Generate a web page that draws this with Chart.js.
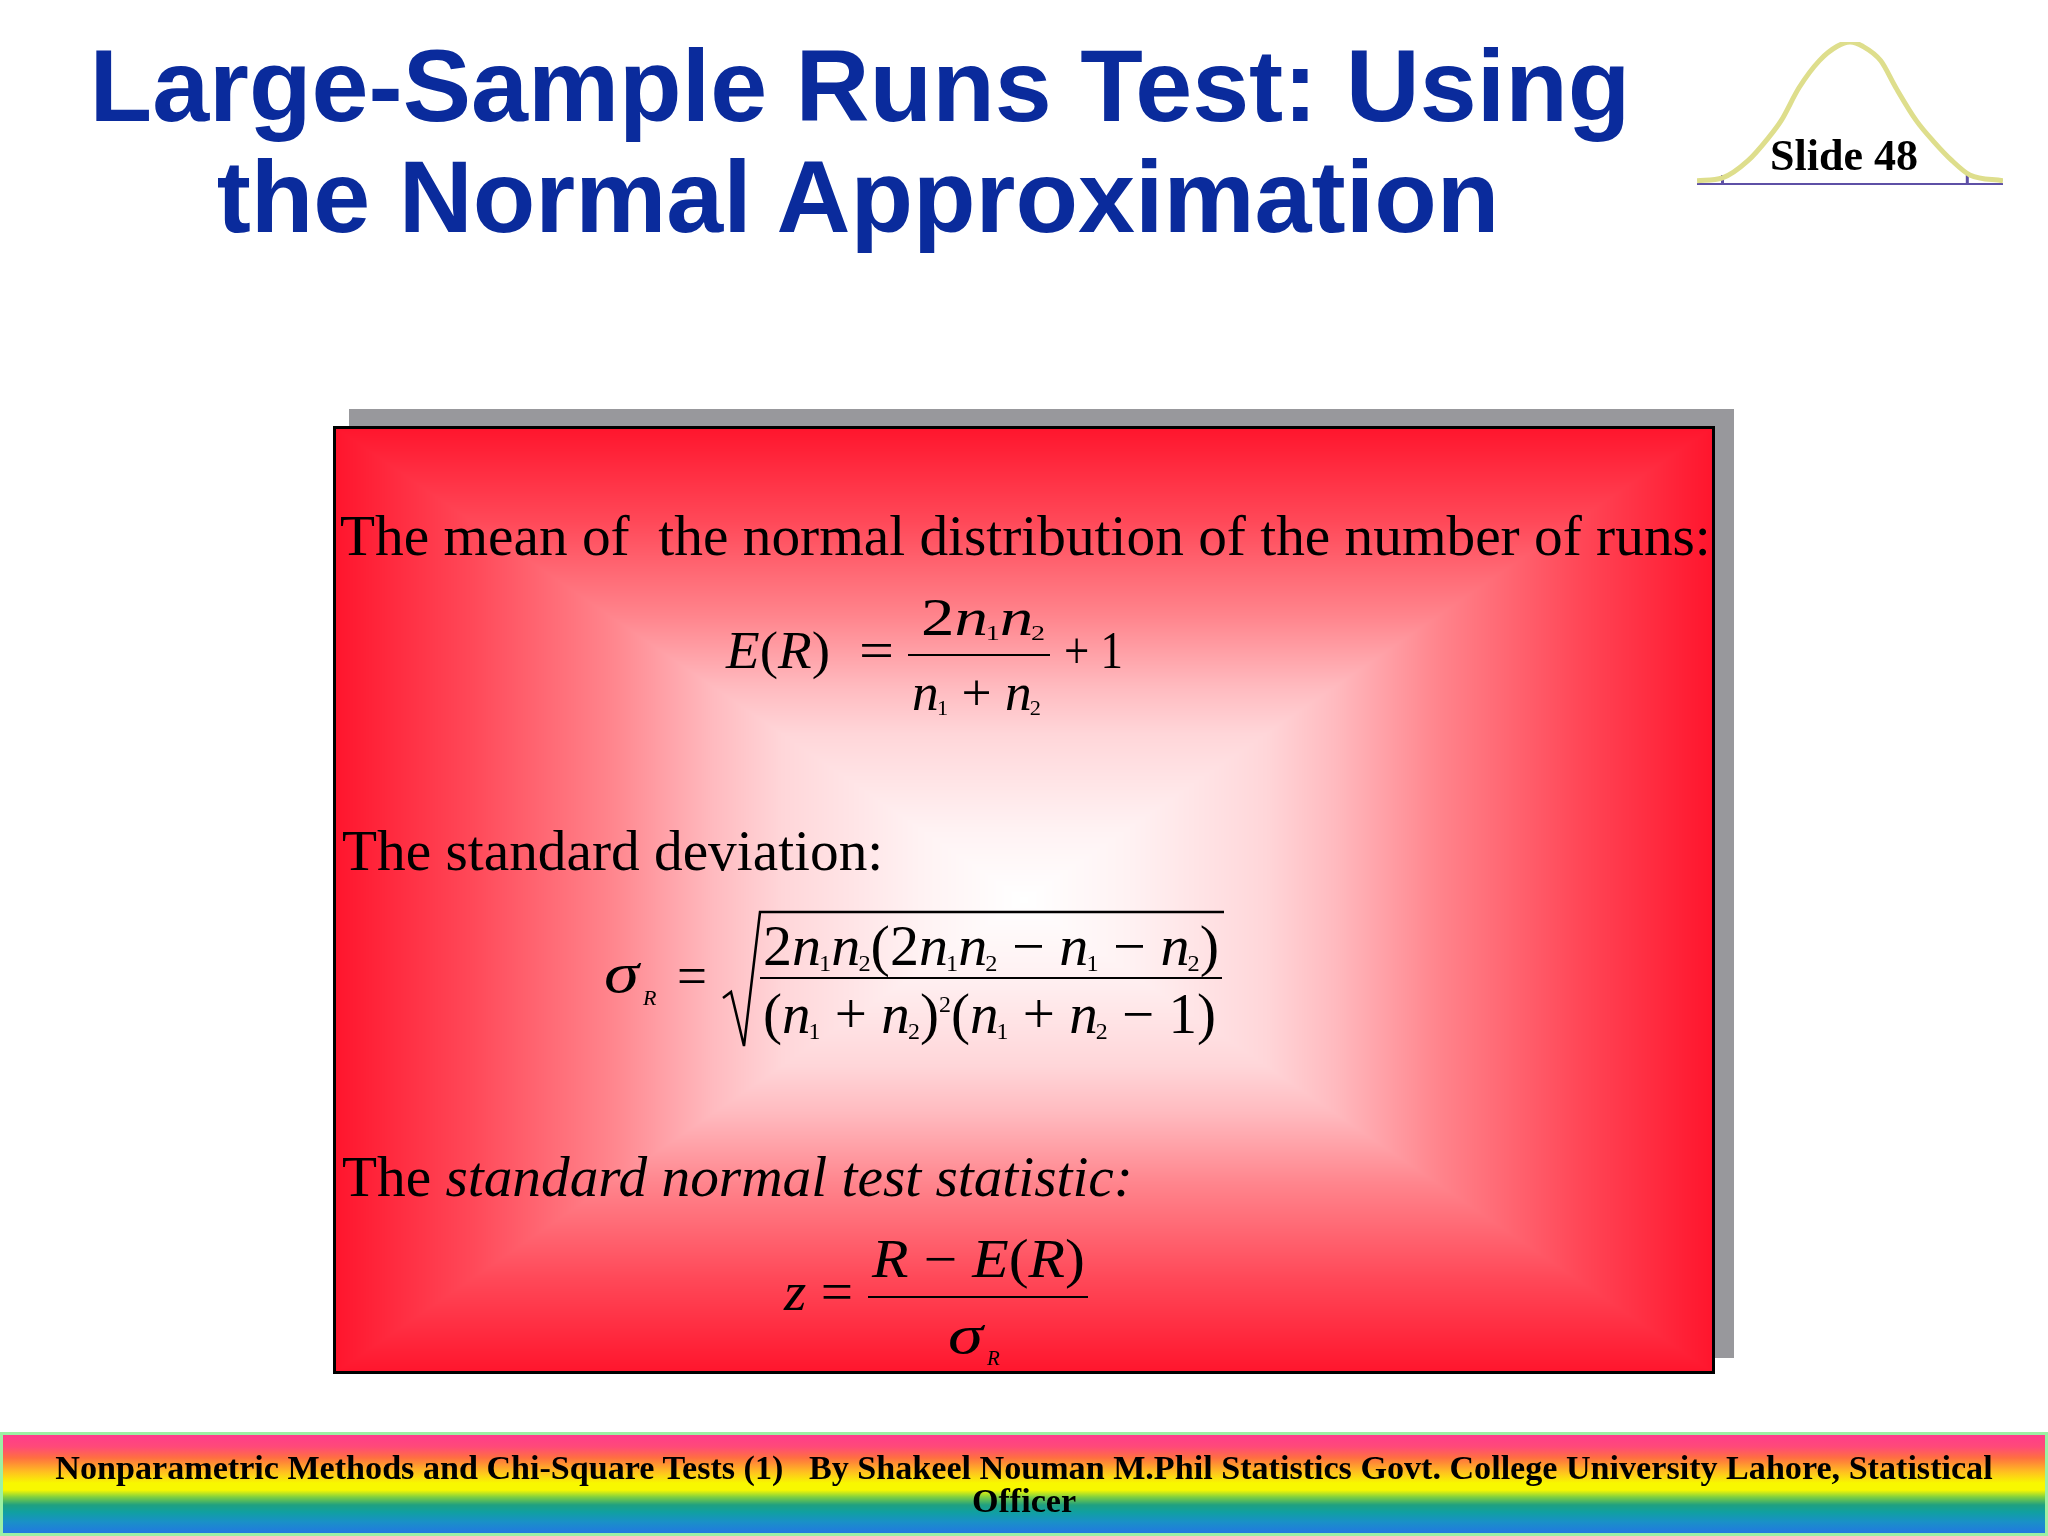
<!DOCTYPE html>
<html>
<head>
<meta charset="utf-8">
<title>Large-Sample Runs Test</title>
<script src="https://cdn.jsdelivr.net/npm/chart.js@4"></script>
<style>
  html, body { margin: 0; padding: 0; background: #fff; }
  #page { position: relative; width: 2048px; height: 1536px; overflow: hidden; background: #fff; }
  .txt { position: absolute; left: 0; top: 0; white-space: nowrap; line-height: 1.2; }
  .bl { display: inline-block; width: 0; height: 0; vertical-align: baseline; }
  .title { font-family: "Liberation Sans", Arial, sans-serif; font-weight: bold; color: #0a2b9c; font-size: 100px; }
  .body { font-family: "Liberation Serif", "Times New Roman", serif; color: #000; font-size: 56px; }
  .m { font-family: "Liberation Serif", "Times New Roman", serif; color: #000; }
  .m i, .body i { font-style: italic; }
  .m .s { font-size: 0.42em; position: relative; top: 0.24em; margin-left: -0.08em; font-style: normal; }
  .m .p { font-size: 0.42em; position: relative; top: -0.9em; font-style: normal; }
  .foot { font-family: "Liberation Serif", "Times New Roman", serif; font-weight: bold; color: #000; font-size: 33px; }
  .slide { font-family: "Liberation Serif", "Times New Roman", serif; font-weight: bold; color: #000; font-size: 44px; }
  #shadow { position: absolute; left: 349px; top: 409px; width: 1385px; height: 949px; background: #98989c; }
  #box { position: absolute; left: 333px; top: 426px; }
  #boxBorder { position: absolute; left: 333px; top: 426px; width: 1382px; height: 948px; box-sizing: border-box; border: 3px solid #000; }
  #footer { position: absolute; left: 0; top: 1432px; width: 2048px; height: 104px; box-sizing: border-box;
    border: 3px solid #9cf0a4;
    background: linear-gradient(to bottom, #ff3c8c 0px, #ff4a78 12px, #ff7040 23px, #ffc020 37px, #f8f800 48px,
      #f8f800 55px, #80d040 62px, #20a080 70px, #10a0a0 77px, #1a90c8 87px, #2278e0 98px); }
  #bell { position: absolute; left: 1691px; top: 36px; }
  #lines { position: absolute; left: 0; top: 0; }
</style>
</head>
<body>
<div id="page">
  <div id="shadow"></div>
  <canvas id="box" width="1382" height="948"></canvas>
  <div id="boxBorder"></div>
  <svg id="lines" width="2048" height="1536"></svg>
  <div id="footer"></div>
  <canvas id="bell" width="318" height="155"></canvas>
</div>
<script>
// logo curve (x in sd units, height in % of peak)
var bellX = [-3.0, -2.5, -2.0, -1.6, -1.35, -1.0, -0.6, -0.25, 0, 0.25, 0.6, 0.9, 1.3, 1.65, 2.0, 2.35, 3.0];
var bellY = [3, 5, 17, 33, 45, 68, 87, 97, 100, 97, 87, 68, 45, 30, 17, 7, 3];
var axisX = [-3.0, 3.0];
var tickX = [-2.5, 2.3];
var tickTop = 7;

// box colour ramp: distance from centre (0) to edge (1)
var rampT = [1.0, 0.8, 0.6, 0.45, 0.35, 0.15, 0.0];
var rampC = [[255, 20, 44], [255, 72, 88], [255, 132, 140], [255, 186, 191], [255, 214, 217], [255, 242, 243], [255, 255, 255]];

var page = document.getElementById('page');

function put(html, x, base, cls, o) {
  o = o || {};
  var el = document.createElement('div');
  el.className = 'txt ' + cls;
  if (o.size) el.style.fontSize = o.size + 'px';
  el.innerHTML = html + '<span class="bl"></span>';
  page.appendChild(el);
  var r = el.getBoundingClientRect();
  var off = el.querySelector('.bl').getBoundingClientRect().top - r.top;
  var w = r.width;
  if (o.w) {
    el.style.transformOrigin = '0 0';
    el.style.transform = 'scaleX(' + (o.w / w) + ')';
    w = o.w;
  }
  el.style.left = (o.center ? x - w / 2 : x) + 'px';
  el.style.top = (base - off) + 'px';
  return el;
}

function fitSize(html, cls, size, target) {
  var el = put(html, 0, 0, cls, { size: size });
  var w = el.getBoundingClientRect().width;
  page.removeChild(el);
  return size * target / w;
}

function line(x1, y1, x2, y2, wd) {
  var svg = document.getElementById('lines');
  var l = document.createElementNS('http://www.w3.org/2000/svg', 'line');
  l.setAttribute('x1', x1); l.setAttribute('y1', y1);
  l.setAttribute('x2', x2); l.setAttribute('y2', y2);
  l.setAttribute('stroke', '#000'); l.setAttribute('stroke-width', wd || 2);
  svg.appendChild(l);
}

function radical(pts) {
  var svg = document.getElementById('lines');
  var p = document.createElementNS('http://www.w3.org/2000/svg', 'polyline');
  p.setAttribute('points', pts);
  p.setAttribute('fill', 'none');
  p.setAttribute('stroke', '#000');
  p.setAttribute('stroke-width', 2.5);
  p.setAttribute('stroke-linejoin', 'miter');
  svg.appendChild(p);
}

// red box, rectangular gradient from centre
(function () {
  var c = document.getElementById('box'), ctx = c.getContext('2d');
  var w = c.width, h = c.height, hw = w / 2, hh = h / 2;
  var img = ctx.createImageData(w, h), d = img.data;
  for (var y = 0; y < h; y++) {
    var ty = Math.abs(y + 0.5 - hh) / hh;
    for (var x = 0; x < w; x++) {
      var t = Math.max(Math.abs(x + 0.5 - hw) / hw, ty);
      var k = 0;
      while (k < rampT.length - 2 && t < rampT[k + 1]) k++;
      var a = rampT[k], b = rampT[k + 1], f = (a - t) / (a - b);
      if (f < 0) f = 0; if (f > 1) f = 1;
      var i = (y * w + x) * 4;
      d[i] = rampC[k][0] + (rampC[k + 1][0] - rampC[k][0]) * f;
      d[i + 1] = rampC[k][1] + (rampC[k + 1][1] - rampC[k][1]) * f;
      d[i + 2] = rampC[k][2] + (rampC[k + 1][2] - rampC[k][2]) * f;
      d[i + 3] = 255;
    }
  }
  ctx.putImageData(img, 0, 0);
})();

// title
var t1 = 'Large-Sample Runs Test: Using';
var ts = fitSize(t1, 'title', 100, 1541);
put(t1, 860, 121, 'title', { size: ts, center: true });
put('the Normal Approximation', 858, 232, 'title', { size: ts, center: true });

// body text
var b1 = 'The mean of &nbsp;the normal distribution of the number of runs:';
var bs = fitSize(b1, 'body', 56, 1371);
put(b1, 340, 555, 'body', { size: bs });
put('The standard deviation:', 342, 870, 'body', { size: bs });
put('The <i>standard normal test statistic:</i>', 342, 1196, 'body', { size: bs });

// E(R) = 2n1n2/(n1+n2) + 1
put('<i>E</i>(<i>R</i>)', 726, 668, 'm', { size: 52, w: 104 });
put('=', 859, 668, 'm', { size: 52, w: 35 });
put('2<i>n</i><span class="s">1</span><i>n</i><span class="s">2</span>', 921, 635, 'm', { size: 52, w: 124 });
line(908, 655, 1050, 655, 2);
put('<i>n</i><span class="s">1</span> + <i>n</i><span class="s">2</span>', 912, 710, 'm', { size: 52, w: 129 });
put('+ 1', 1064, 668, 'm', { size: 52, w: 59 });

// sigma_R
put('<i>&sigma;</i>', 604, 992, 'm', { size: 56, w: 35 });
put('<i>R</i>', 643, 1005, 'm', { size: 22 });
put('=', 677, 995, 'm', { size: 56, w: 30 });
radical('723,998 731,992 744,1046 760,912 1224,912');
put('2<i>n</i><span class="s">1</span><i>n</i><span class="s">2</span>(2<i>n</i><span class="s">1</span><i>n</i><span class="s">2</span> &minus; <i>n</i><span class="s">1</span> &minus; <i>n</i><span class="s">2</span>)',
  763, 965, 'm', { size: 56, w: 456 });
line(760, 978, 1222, 978, 2);
put('(<i>n</i><span class="s">1</span> + <i>n</i><span class="s">2</span>)<span class="p">2</span>(<i>n</i><span class="s">1</span> + <i>n</i><span class="s">2</span> &minus; 1)',
  763, 1033, 'm', { size: 56, w: 453 });

// z = (R - E(R)) / sigma_R
put('<i>z</i> =', 784, 1310, 'm', { size: 54, w: 69 });
put('<i>R</i> &minus; <i>E</i>(<i>R</i>)', 872, 1277, 'm', { size: 54, w: 213 });
line(868, 1297, 1088, 1297, 2);
put('<i>&sigma;</i>', 948, 1353, 'm', { size: 54, w: 35 });
put('<i>R</i>', 987, 1365, 'm', { size: 21 });

// footer
var f1 = 'Nonparametric Methods and Chi-Square Tests (1) &nbsp; By Shakeel Nouman M.Phil Statistics Govt. College University Lahore, Statistical';
var fs = fitSize(f1, 'foot', 33, 1938);
put(f1, 1024, 1479, 'foot', { size: fs, center: true });
put('Officer', 1024, 1512, 'foot', { size: fs, center: true });

// logo curve
var bell = bellX.map(function (x, i) { return { x: x, y: bellY[i] }; });
var axis = axisX.map(function (x) { return { x: x, y: 0 }; });
var ticks = [];
tickX.forEach(function (x) {
  ticks.push({ x: x, y: 0 }, { x: x, y: tickTop }, { x: x, y: null });
});

new Chart(document.getElementById('bell'), {
  type: 'line',
  data: {
    datasets: [
      { data: bell, borderColor: '#dede8c', borderWidth: 5, pointRadius: 0,
        cubicInterpolationMode: 'monotone', order: 0 },
      { data: axis, borderColor: '#5e50a6', borderWidth: 4, pointRadius: 0, order: 1 },
      { data: ticks, borderColor: '#5e50a6', borderWidth: 3, pointRadius: 0, spanGaps: false, order: 1 }
    ]
  },
  options: {
    responsive: false,
    animation: false,
    devicePixelRatio: 1,
    events: [],
    layout: { padding: 6 },
    plugins: { legend: { display: false }, tooltip: { enabled: false } },
    scales: {
      x: { type: 'linear', min: -3, max: 3, display: false },
      y: { min: 0, max: 100, display: false }
    }
  }
});

put('Slide 48', 1844, 170, 'slide', { center: true });
</script>
</body>
</html>
